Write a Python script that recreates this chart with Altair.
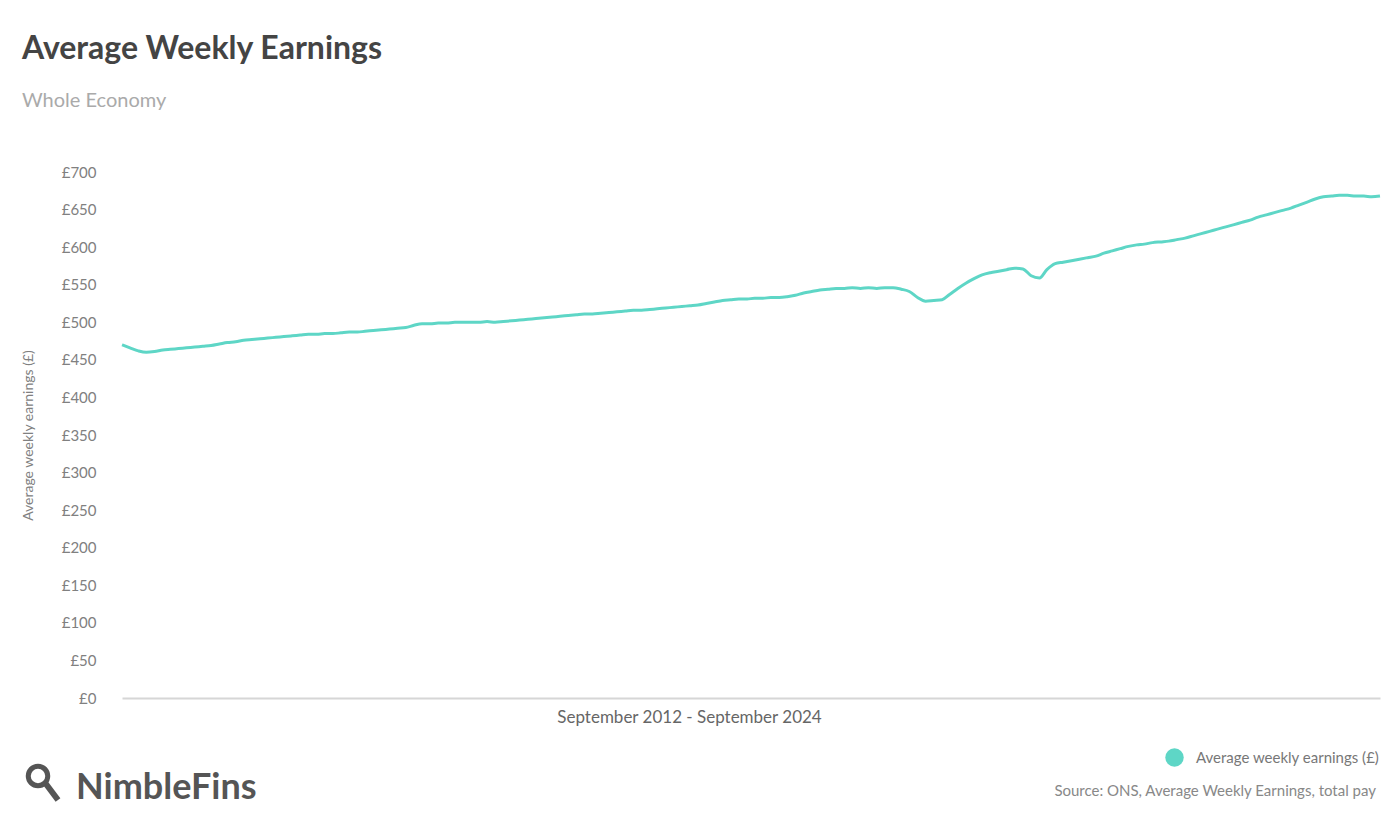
import altair as alt
import pandas as pd

# Monthly values, Sep 2012 .. Sep 2024
v_a = [470, 466, 462, 460, 461, 463, 464, 465, 466, 467, 468, 469]
v_b = [471, 473, 474, 476, 477, 478, 479, 480, 481, 482, 483, 484]
v_c = [484, 485, 485, 486, 487, 487, 488, 489, 490, 491, 492, 493]
v_d = [496, 498, 498, 499, 499, 500, 500, 500, 500, 501, 500, 501]
v_e = [502, 503, 504, 505, 506, 507, 508, 509, 510, 511, 511, 512]
v_f = [513, 514, 515, 516, 516, 517, 518, 519, 520, 521, 522, 523]
v_g = [525, 527, 529, 530, 531, 531, 532, 532, 533, 533, 534, 536]
v_h = [539, 541, 543, 544, 545, 545, 546, 545, 546, 545, 546, 546]
v_i = [544, 541, 533, 528, 529, 530, 537, 545, 552, 558, 563, 566]
v_j = [568, 570, 572, 571, 562, 559, 570, 578, 580, 582, 584, 586]
v_k = [588, 592, 595, 598, 601, 603, 604, 606, 607, 608, 610, 612]
v_l = [615, 618, 621, 624, 627, 630, 633, 636, 640, 643, 646, 649]
v_m = [652, 656, 660, 664, 667, 668, 669, 669, 668, 668, 667, 668]

values = v_a + v_b + v_c + v_d + v_e + v_f + v_g + v_h + v_i + v_j + v_k + v_l + v_m
start_month = "2012-09-01"
months = pd.date_range(start_month, periods=len(values), freq="MS").strftime("%Y-%m-%d").tolist()
series_name = "Average weekly earnings (£)"
y_ticks = list(range(0, 701, 50))

df = pd.DataFrame({"month": months, "pay": values, "series": series_name})

LINE = "#5ED6C6"
W, H = 1258, 526

line = alt.Chart(df).mark_line(strokeWidth=3, interpolate="monotone").encode(
    x=alt.X("month:T", scale=alt.Scale(nice=False),
            axis=alt.Axis(labels=False, ticks=False, grid=False, domain=True,
                          domainColor="#d6d6d6", domainWidth=2,
                          title="September 2012 - September 2024",
                          titleFontSize=17, titleFontWeight="normal", titleColor="#666",
                          titleX=567, titleY=19, titleBaseline="middle", titleAlign="center")),
    y=alt.Y("pay:Q", scale=alt.Scale(domain=[0, 700], nice=False),
            axis=alt.Axis(values=y_ticks, ticks=False, domain=False, grid=False,
                          labelExpr="'£' + format(datum.value, ',')",
                          labelFontSize=15, labelColor="#808080", labelPadding=26,
                          title="Average weekly earnings (£)", titleFontSize=14,
                          titleFontWeight="normal", titleColor="#808080",
                          titleX=-87, titleY=263, titleAlign="center")),
    color=alt.Color("series:N", scale=alt.Scale(domain=[series_name], range=[LINE]),
                    legend=alt.Legend(orient="none", legendX=1043, legendY=576, title=None,
                                      symbolType="circle", symbolSize=340,
                                      symbolFillColor=LINE, symbolStrokeColor=LINE,
                                      symbolStrokeWidth=0, labelFontSize=15,
                                      labelColor="#777", labelOffset=12, padding=0,
                                      labelLimit=400)),
)

foot_df = pd.DataFrame({"t": ["Source: ONS, Average Weekly Earnings, total pay"]})
footer = alt.Chart(foot_df).mark_text(align="right", baseline="middle", fontSize=15,
                                      color="#888").encode(
    x=alt.value(1254), y=alt.value(619), text="t:N")

logo_df = pd.DataFrame({"t": ["NimbleFins"]})
logo = alt.Chart(logo_df).mark_text(align="left", baseline="middle", fontSize=36,
                                    fontWeight="bold", color="#555").encode(
    x=alt.value(-46), y=alt.value(616), text="t:N")
icon = alt.Chart(logo_df).mark_point(shape="circle", filled=False, size=380,
                                     strokeWidth=5, color="#555", opacity=1).encode(
    x=alt.value(-84), y=alt.value(604))
handle = alt.Chart(logo_df).mark_rule(strokeWidth=6, color="#555").encode(
    x=alt.value(-76), x2=alt.value(-64), y=alt.value(612), y2=alt.value(628))

chart = alt.layer(line, footer, logo, icon, handle).properties(
    width=W, height=H,
    autosize=alt.AutoSizeParams(type="none"),
    padding={"left": 114, "top": 164, "right": 12, "bottom": 130},
    title=alt.TitleParams(text="Average Weekly Earnings", subtitle="Whole Economy",
                          anchor="start", frame="group", dx=-100, offset=53,
                          fontSize=32, fontWeight="bold", color="#444",
                          subtitleFontSize=20, subtitleColor="#aaa", subtitlePadding=25),
).configure(font="Lato").configure_view(stroke=None)

chart.save("out.html", embed_options={"renderer": "svg", "actions": False})
